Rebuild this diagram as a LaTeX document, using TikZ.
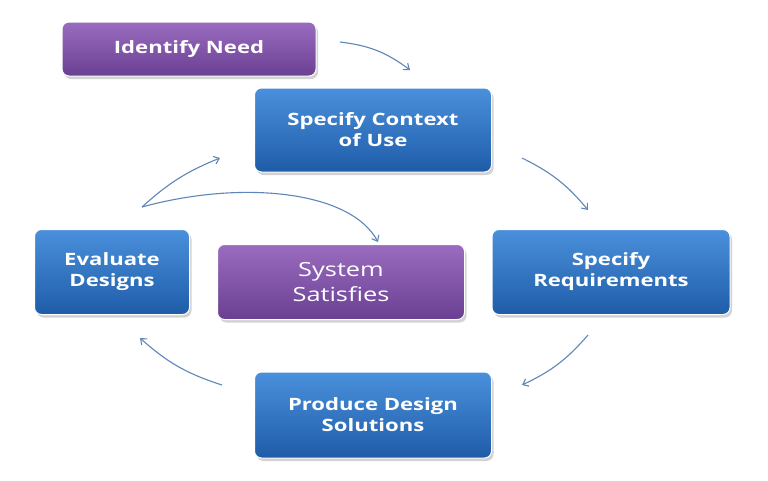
\documentclass[tikz,border=0pt]{standalone}
\usepackage{fontspec}
\usepackage{graphicx}
\setmainfont{Open Sans}
\usetikzlibrary{shadows,arrows.meta}
\definecolor{btop}{HTML}{4A90DC}
\definecolor{bbot}{HTML}{1F5CA8}
\definecolor{ptop}{HTML}{9A6CC0}
\definecolor{pbot}{HTML}{6A3F92}
\definecolor{arr}{HTML}{5E86B8}
\newcommand{\wideTxt}[1]{\scalebox{1.3}[1]{#1}}
\begin{document}
\begin{tikzpicture}[x=1pt,y=-1pt,
  box/.style={rounded corners=7pt,draw=white,line width=1pt,text=white,align=center,
    font=\bfseries\fontsize{17}{21}\selectfont,inner sep=0pt,drop shadow={opacity=0.35,shadow xshift=2pt,shadow yshift=-3pt}},
  bluebox/.style={box,top color=btop,bottom color=bbot},
  purplebox/.style={box,top color=ptop,bottom color=pbot},
  conn/.style={draw=arr,line width=1.1pt,-{Straight Barb[length=5pt,width=8pt]}}]
\useasboundingbox[fill=white] (0,0) rectangle (768,480);
\node[purplebox,minimum width=254pt,minimum height=54pt] (need) at (189,49) {\wideTxt{Identify Need}};
\node[bluebox,minimum width=237pt,minimum height=84pt] (ctx) at (373,130) {\wideTxt{Specify Context}\\\wideTxt{of Use}};
\node[bluebox,minimum width=238pt,minimum height=85pt] (req) at (611,272) {\wideTxt{Specify}\\\wideTxt{Requirements}};
\node[bluebox,minimum width=237pt,minimum height=86pt] (prod) at (373,415) {\wideTxt{Produce Design}\\\wideTxt{Solutions}};
\node[bluebox,minimum width=155pt,minimum height=85pt] (eval) at (112,272) {\wideTxt{Evaluate}\\\wideTxt{Designs}};
\node[purplebox,minimum width=247pt,minimum height=75pt,font=\fontsize{19.5}{25}\selectfont] (sys) at (341,282) {\wideTxt{System}\\\wideTxt{Satisfies}};
\coordinate (a1) at (340,42); \coordinate (a2) at (410,70);
\coordinate (b1) at (522,158); \coordinate (b2) at (588,210);
\coordinate (c1) at (588,335); \coordinate (c2) at (522,385);
\coordinate (d1) at (222,385); \coordinate (d2) at (140,338);
\coordinate (e1) at (142,207); \coordinate (e2) at (220,158);
\coordinate (f2) at (378,242);
\draw[conn] (a1) to[bend left=15] (a2);
\draw[conn] (b1) to[bend left=12] (b2);
\draw[conn] (c1) to[bend left=12] (c2);
\draw[conn] (d1) to[bend left=12] (d2);
\draw[conn] (e1) to[bend left=10] (e2);
\draw[conn] (e1) .. controls (240,180) and (350,190) .. (f2);
\end{tikzpicture}
\end{document}
